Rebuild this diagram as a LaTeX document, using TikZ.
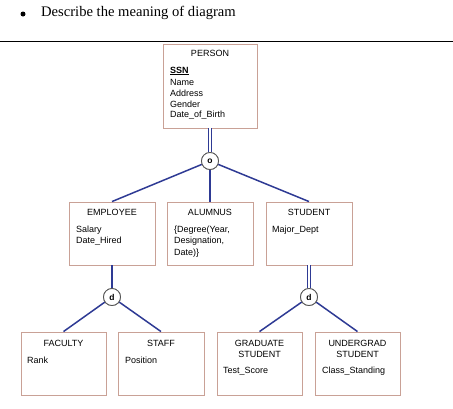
\documentclass[tikz,border=0pt]{standalone}
\usepackage{fontspec}
\setmainfont{Liberation Serif}
\newfontfamily\boxfont{Liberation Sans}
\definecolor{linkblue}{HTML}{2E3A94}
\definecolor{boxline}{HTML}{C9A196}
\definecolor{circline}{HTML}{555555}
\tikzset{
  entity/.style={draw=boxline, line width=0.9pt, fill=white},
  ttl/.style={font=\boxfont\fontsize{9}{10}\selectfont, inner sep=0pt, anchor=center},
  attr/.style={font=\boxfont\fontsize{9}{10}\selectfont, inner sep=0pt, anchor=west},
  link/.style={draw=linkblue, line width=1.5pt},
  dlink/.style={draw=linkblue, line width=0.9pt, double=white, double distance=1.6pt},
  circ/.style={circle, draw=circline, line width=0.8pt, fill=white, minimum size=17pt, inner sep=0pt, font=\boxfont\fontsize{8.5}{9}\selectfont\bfseries}
}
\begin{document}
\begin{tikzpicture}[x=1pt,y=-1pt]
\useasboundingbox (0,0) rectangle (453,408);
% header
\node[circle, fill=black, inner sep=0pt, minimum size=5pt] (bul) at (23,14) {};
\node[anchor=west, inner sep=0pt, font=\fontsize{14.6}{16}\selectfont] (hdr) at (41,13) {Describe the meaning of diagram};
\coordinate (hl) at (0,41);
\coordinate (hr) at (453,41);
\draw[line width=1pt] (hl) -- (hr);

% boxes
\node[entity, minimum width=94pt, minimum height=84pt] (person) at (210,86) {};
\node[entity, minimum width=86pt, minimum height=63pt] (employee) at (112,233.5) {};
\node[entity, minimum width=86pt, minimum height=63pt] (alumnus) at (210,233.5) {};
\node[entity, minimum width=86pt, minimum height=63pt] (student) at (309,233.5) {};
\node[entity, minimum width=85pt, minimum height=63pt] (faculty) at (63.5,363.5) {};
\node[entity, minimum width=86pt, minimum height=63pt] (staff) at (161,363.5) {};
\node[entity, minimum width=85pt, minimum height=63pt] (grad) at (259.5,363.5) {};
\node[entity, minimum width=85pt, minimum height=63pt] (ugrad) at (357.5,363.5) {};

% circles
\node[circ] (o) at (210,161) {o};
\node[circ] (d1) at (112,297) {d};
\node[circ] (d2) at (309,297) {d};

% connectors
\draw[dlink] (person.south) -- (o.north);
\draw[link] (o) -- (employee.north);
\draw[link] (o) -- (alumnus.north);
\draw[link] (o) -- (student.north);
\draw[link] (employee.south) -- (d1.north);
\draw[dlink] (student.south) -- (d2.north);
\draw[link] (d1) -- (faculty.north);
\draw[link] (d1) -- (staff.north);
\draw[link] (d2) -- (grad.north);
\draw[link] (d2) -- (ugrad.north);
\node[circ] (o2) at (o) {o};
\node[circ] (d1b) at (d1) {d};
\node[circ] (d2b) at (d2) {d};

% PERSON text
\node[ttl] (tperson) at (210,53) {PERSON};
\node[attr] (ssn) at (170,71) {\textbf{\underline{SSN}}};
\node[attr] (name) at (170,82) {Name};
\node[attr] (addr) at (170,93) {Address};
\node[attr] (gend) at (170,104) {Gender};
\node[attr] (dob) at (170,115.5) {Date\_of\_Birth};

% row 2
\node[ttl] (temp) at (112,212.5) {EMPLOYEE};
\node[attr] (sal) at (76,230) {Salary};
\node[attr] (dh) at (76,241.5) {Date\_Hired};
\node[ttl] (talu) at (210,212.5) {ALUMNUS};
\node[attr] (deg) at (174,230) {\{Degree(Year,};
\node[attr] (des) at (174,241.5) {Designation,};
\node[attr] (dat) at (174,253) {Date)\}};
\node[ttl] (tstu) at (309,212.5) {STUDENT};
\node[attr] (maj) at (272,230) {Major\_Dept};

% row 3
\node[ttl] (tfac) at (63.5,343) {FACULTY};
\node[attr] (rank) at (27,360) {Rank};
\node[ttl] (tsta) at (161,343) {STAFF};
\node[attr] (pos) at (125,360) {Position};
\node[ttl] (tgr1) at (259.5,343) {GRADUATE};
\node[ttl] (tgr2) at (259.5,354) {STUDENT};
\node[attr] (ts) at (223,371) {Test\_Score};
\node[ttl] (tug1) at (357.5,343) {UNDERGRAD};
\node[ttl] (tug2) at (357.5,354) {STUDENT};
\node[attr] (cs) at (322,371) {Class\_Standing};
\end{tikzpicture}
\end{document}
